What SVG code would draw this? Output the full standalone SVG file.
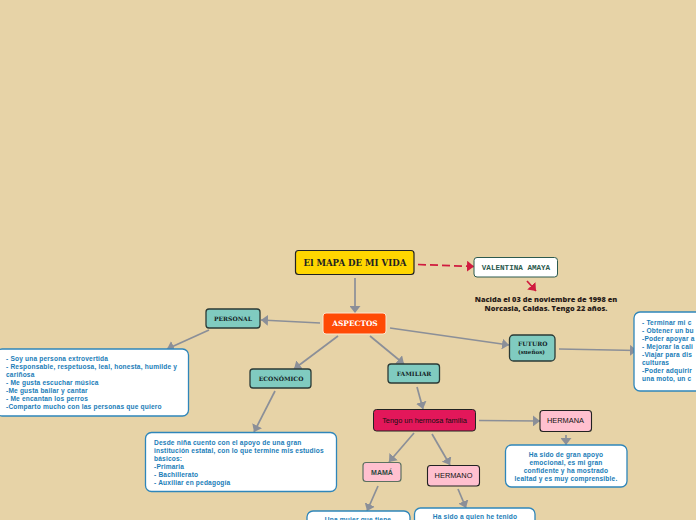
<svg xmlns="http://www.w3.org/2000/svg" width="696" height="520" viewBox="0 0 696 520">
<style>
.c{fill:none;stroke:#8b8f98;stroke-width:1.7;marker-end:url(#a)}
.t{fill:#80cbc0;stroke:#2b3a36;stroke-width:1.3}
.p{fill:#ffc0cf;stroke:#222;stroke-width:1.1}
.w{fill:#fff;stroke:#2f86ba;stroke-width:1.3}
.n{font-family:"DejaVu Serif",serif;font-weight:bold;font-size:6px;fill:#12221f;text-anchor:middle}
.s{font-family:"Liberation Sans",Arial,sans-serif;font-size:7.4px;fill:#111;text-anchor:middle}
.b{font-family:"Liberation Sans",Arial,sans-serif;font-weight:bold;font-size:6.6px;letter-spacing:.18px;fill:#1a7db8}
.m{text-anchor:middle}
.d{font-family:"Open Sans",sans-serif;font-weight:800;font-size:7.4px;fill:#2a1d1a;text-anchor:middle}
</style>
<defs>
<marker id="a" markerUnits="userSpaceOnUse" markerWidth="8" markerHeight="11" refX="7" refY="5.500" orient="auto"><path d="M0 0L7 5.500L0 11Z" fill="#8b8f98"/></marker>
<marker id="r" markerUnits="userSpaceOnUse" markerWidth="8" markerHeight="11" refX="7" refY="5.500" orient="auto"><path d="M0 0L7 5.500L0 11Z" fill="#d01b3f"/></marker>
</defs>
<rect width="696" height="520" fill="#e7d3a7"/>
<g id="connectors">
<path class="c" d="M355 278V313"/>
<path class="c" d="M320 323L261 320"/>
<path class="c" d="M338 336L294 369"/>
<path class="c" d="M370 336L404 364"/>
<path class="c" d="M390 328L509 345"/>
<path class="c" d="M209 330L167 349"/>
<path class="c" d="M275 391L254 432"/>
<path class="c" d="M417 387L423 409"/>
<path class="c" d="M559 349L637 350.500"/>
<path class="c" d="M414 433L389 462"/>
<path class="c" d="M432 434L450 465"/>
<path class="c" d="M479 420.500L540 421"/>
<path class="c" d="M566 435V445"/>
<path class="c" d="M378 486L367 511"/>
<path class="c" d="M458 489L466 508"/>
<path d="M418 264.500L474 266.500" fill="none" stroke="#d01b3f" stroke-width="1.7" stroke-dasharray="8 4" marker-end="url(#r)"/>
<path d="M527 281L536 291" fill="none" stroke="#d01b3f" stroke-width="1.7" marker-end="url(#r)"/>
</g>
<g id="title"><rect x="295.500" y="250.500" width="118.500" height="24" rx="3" fill="#ffd600" stroke="#222" stroke-width="1.2"/><text x="355" y="266" font-family="'DejaVu Serif',serif" font-weight="bold" font-size="8.600" fill="#222" text-anchor="middle">El MAPA DE MI VIDA</text></g>
<g id="valentina"><rect x="474" y="257.500" width="83.500" height="19.500" rx="3" fill="#fff" stroke="#2c5a4e" stroke-width="1"/><text x="516" y="270" font-family="'Liberation Mono',monospace" font-weight="bold" font-size="7.600" fill="#2c5a4e" text-anchor="middle">VALENTINA AMAYA</text></g>
<g id="nacida"><text class="d" x="546" y="302">Nacida el 03 de noviembre de 1998 en</text><text class="d" x="546" y="311">Norcasia, Caldas. Tengo 22 años.</text></g>
<g id="aspectos"><rect x="323" y="313" width="63" height="21" rx="3" fill="#ff4a05" stroke="#fbe7d0" stroke-width="1"/><text x="355" y="326" font-family="'DejaVu Serif',serif" font-weight="bold" font-size="7.400" fill="#fff" text-anchor="middle">ASPECTOS</text></g>
<g id="personal"><rect class="t" x="206" y="309" width="54" height="19" rx="3"/><text class="n" x="233" y="321">PERSONAL</text></g>
<g id="economico"><rect class="t" x="250" y="369" width="61" height="19" rx="3"/><text class="n" x="281" y="381">ECONÓMICO</text></g>
<g id="familiar"><rect class="t" x="388" y="364" width="51.500" height="19" rx="3"/><text class="n" x="414" y="376">FAMILIAR</text></g>
<g id="futuro"><rect class="t" x="509.500" y="335" width="45.500" height="26" rx="4"/><text class="n" x="518" y="346" style="text-anchor:start">FUTURO</text><text class="n" x="518" y="354" style="text-anchor:start;font-size:5.600px">(sueños)</text></g>
<g id="familia"><rect x="373.500" y="409.500" width="102" height="21.500" rx="3" fill="#e3175a" stroke="#222" stroke-width="1"/><text class="s" x="424.500" y="423">Tengo un hermosa familia</text></g>
<g id="hermana"><rect class="p" x="540" y="410.500" width="51.500" height="21" rx="3"/><text class="s" x="565.500" y="423">HERMANA</text></g>
<g id="mama"><rect x="363" y="462.500" width="38" height="19" rx="3" fill="#ffc0cf" stroke="#5c7160" stroke-width="1.2"/><text x="382" y="475" font-family="'Liberation Sans',sans-serif" font-weight="bold" font-size="7" fill="#2d4a40" text-anchor="middle">MAMÁ</text></g>
<g id="hermano"><rect class="p" x="427.500" y="465.500" width="52" height="20.500" rx="3"/><text class="s" x="453.500" y="478">HERMANO</text></g>
<g id="detalle-personal"><rect class="w" x="-4" y="349" width="192.500" height="67" rx="6"/><text class="b" x="6" y="361">- Soy una persona extrovertida</text><text class="b" x="6" y="369">- Responsable, respetuosa, leal, honesta, humilde y</text><text class="b" x="6" y="377">cariñosa</text><text class="b" x="6" y="385">- Me gusta escuchar música</text><text class="b" x="6" y="393">-Me gusta bailar y cantar</text><text class="b" x="6" y="401">- Me encantan los perros</text><text class="b" x="6" y="409">-Comparto mucho con las personas que quiero</text></g>
<g id="detalle-economico"><rect class="w" x="145.500" y="432.500" width="191" height="59" rx="6"/><text class="b" x="154" y="445">Desde niña cuento con el apoyo de una gran</text><text class="b" x="154" y="453">institución estatal, con lo que termine mis estudios</text><text class="b" x="154" y="461">básicos:</text><text class="b" x="154" y="469">-Primaria</text><text class="b" x="154" y="477">- Bachillerato</text><text class="b" x="154" y="485">- Auxiliar en pedagogía</text></g>
<g id="detalle-hermana"><rect class="w" x="505.500" y="445" width="121.500" height="42" rx="6"/><text class="b m" x="566" y="457">Ha sido de gran apoyo</text><text class="b m" x="566" y="465">emocional, es mi gran</text><text class="b m" x="566" y="473">confidente y ha mostrado</text><text class="b m" x="566" y="481">lealtad y es muy comprensible.</text></g>
<g id="detalle-futuro"><rect class="w" x="634" y="312" width="70" height="79" rx="6"/><text class="b" x="642" y="325">- Terminar mi c</text><text class="b" x="642" y="333">- Obtener un bu</text><text class="b" x="642" y="341">-Poder apoyar a</text><text class="b" x="642" y="349">- Mejorar la cali</text><text class="b" x="642" y="357">-Viajar para dis</text><text class="b" x="642" y="365">culturas</text><text class="b" x="642" y="373">-Poder adquirir</text><text class="b" x="642" y="381">una moto, un c</text></g>
<g id="detalle-mama"><rect class="w" x="307" y="511" width="103" height="20" rx="6"/><text class="b m" x="358" y="522">Una mujer que tiene</text></g>
<g id="detalle-hermano"><rect class="w" x="414.500" y="508" width="120.500" height="22" rx="6"/><text class="b m" x="475" y="519">Ha sido a quien he tenido</text></g>
</svg>
